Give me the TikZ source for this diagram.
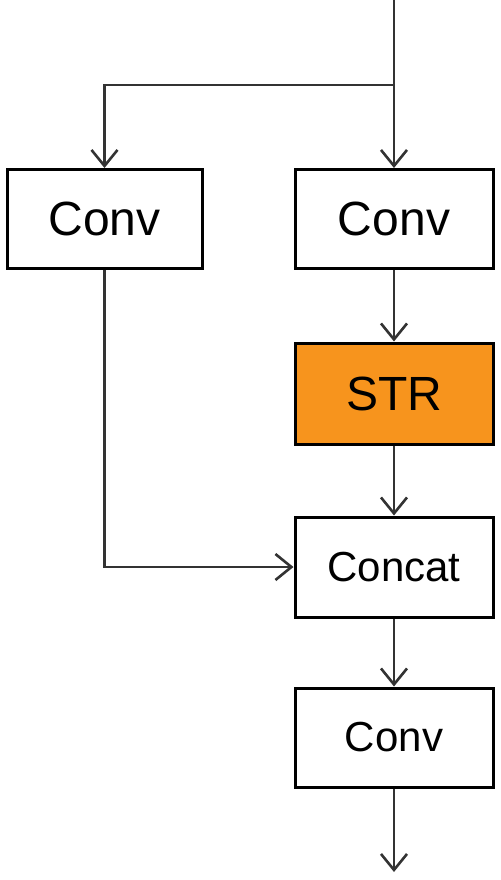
\documentclass[tikz,border=0pt]{standalone}
\usepackage{fontspec}
\setmainfont{Liberation Sans}
\usetikzlibrary{arrows.meta}

\definecolor{strorange}{HTML}{F7941D}
\definecolor{linegray}{HTML}{333333}

\begin{document}
\begin{tikzpicture}[x=0.5pt, y=-0.5pt,
  box/.style={draw, line width=1.5pt, minimum width=99pt, minimum height=49.5pt, inner sep=0pt},
  big/.style={font=\fontsize{24}{28}\selectfont},
  small/.style={font=\fontsize{21}{25}\selectfont},
  flow/.style={draw=linegray, line width=1.3pt, -{Straight Barb[length=8pt, width=13pt, line width=1.3pt]}}]
\useasboundingbox (0,0) rectangle (500,880);

\coordinate (in) at (394,0);
\coordinate (split) at (394,85);
\node[box, big, minimum width=97.5pt] (convL) at (104.5,219) {Conv};
\node[box, big] (convR) at (394,219) {Conv};
\node[box, big, fill=strorange, minimum height=50.5pt] (str) at (394,393.5) {STR};
\node[box, small, minimum height=50pt] (concat) at (394,567) {Concat};
\node[box, small] (convOut) at (394,737.5) {Conv};
\coordinate (out) at (394,872);

\draw[flow] (in) -- (convR);
\draw[flow] (split) -| (convL);
\draw[flow] (convR) -- (str);
\draw[flow] (str) -- (concat);
\draw[flow] (convL.south) |- (concat.west);
\draw[flow] (concat) -- (convOut);
\draw[flow] (convOut) -- (out);
\end{tikzpicture}
\end{document}
